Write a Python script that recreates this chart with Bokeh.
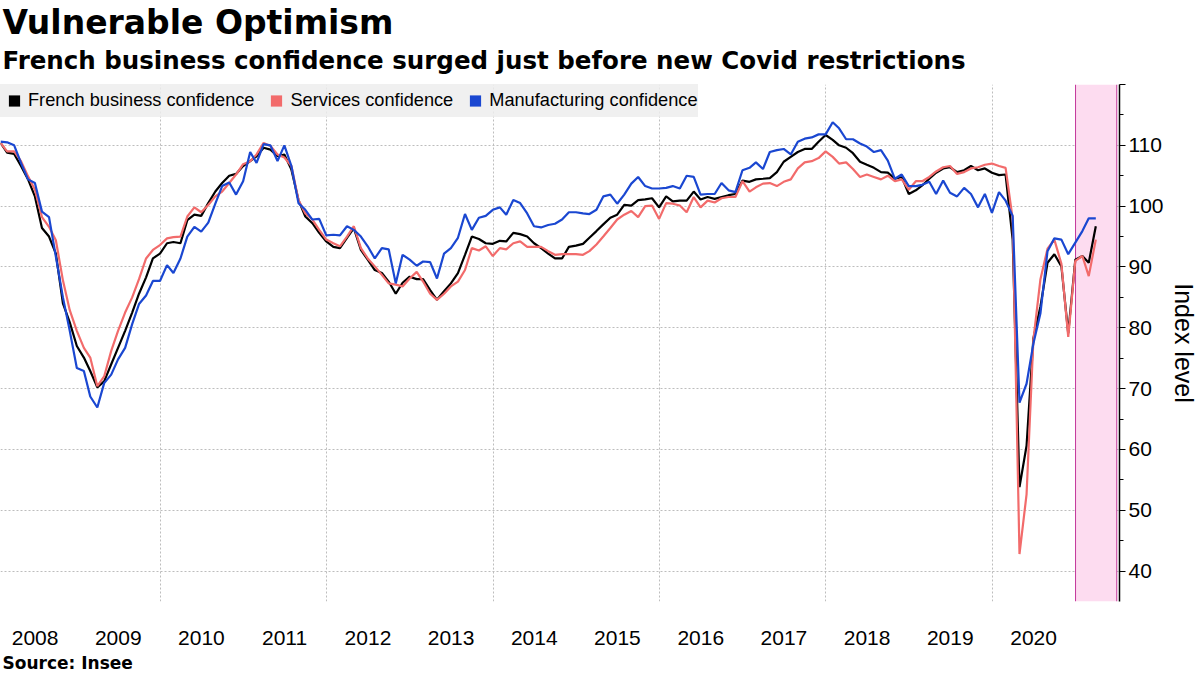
import datetime as dt

import pandas as pd
from bokeh.embed import file_html
from bokeh.models import (BoxAnnotation, ColumnDataSource, CustomJSTickFormatter,
                          FixedTicker, Legend, LegendItem, Range1d, Span, Title)
from bokeh.plotting import figure
from bokeh.resources import INLINE

# Monthly survey readings, Jan 2008 - Mar 2021 (each plotted at month end)
months = pd.date_range("2008-02-01", periods=159, freq="MS") - pd.Timedelta(days=1)

business = [
    110.4, 108.8, 108.6, 106.6, 104.4, 101.6, 96.4, 95.0, 92.2, 84.0, 80.9, 77.0,
    75.1, 72.9, 70.2, 71.2, 74.0, 76.7, 79.5, 82.5, 85.6, 88.3, 91.4, 92.2,
    93.9, 94.1, 93.9, 97.7, 98.6, 98.4, 100.5, 102.4, 103.8, 105.0, 105.3, 106.6,
    107.4, 108.2, 109.6, 109.3, 108.2, 108.5, 106.0, 101.0, 98.3, 97.2, 95.6, 94.2,
    93.3, 93.1, 94.8, 96.4, 92.8, 91.2, 89.5, 89.0, 87.6, 85.6, 87.4, 88.4,
    88.0, 88.0, 86.2, 84.6, 86.0, 87.3, 89.0, 92.0, 95.0, 94.6, 93.9, 93.8,
    94.3, 94.2, 95.6, 95.4, 95.0, 93.9, 93.1, 92.2, 91.4, 91.4, 93.3, 93.5,
    93.8, 94.8, 95.9, 97.0, 98.1, 98.6, 100.2, 100.1, 101.0, 101.1, 101.3, 99.8,
    101.6, 100.8, 100.9, 100.9, 102.4, 101.1, 101.5, 101.2, 101.5, 101.8, 102.0, 104.2,
    104.0, 104.4, 104.5, 104.6, 105.6, 107.3, 108.1, 108.9, 109.4, 109.4, 110.6, 111.7,
    110.9, 110.0, 109.6, 108.7, 107.3, 106.8, 106.3, 105.6, 105.5, 104.5, 104.8, 102.0,
    102.6, 103.4, 104.5, 105.5, 106.2, 106.4, 105.6, 105.9, 106.6, 105.9, 106.2, 105.5,
    105.1, 105.2, 94.5, 53.8, 60.6, 78.3, 83.5, 90.7, 92.1, 90.1, 79.1, 91.2,
    91.8, 90.7, 96.7,
]

services = [
    110.4, 109.0, 109.0, 107.4, 104.9, 102.7, 98.2, 96.6, 94.4, 87.8, 82.9, 79.5,
    76.7, 75.1, 70.4, 72.0, 76.2, 79.5, 82.5, 85.0, 88.0, 91.4, 92.8, 93.6,
    94.7, 94.9, 95.0, 98.3, 99.8, 99.0, 100.2, 101.6, 102.4, 103.8, 105.2, 106.9,
    107.4, 108.5, 110.4, 109.9, 108.5, 108.0, 106.6, 101.0, 98.8, 97.8, 96.1, 94.5,
    93.9, 93.4, 95.0, 96.7, 93.1, 91.4, 90.1, 88.7, 87.3, 87.1, 86.8, 88.1,
    89.2, 87.6, 85.6, 84.6, 85.6, 86.8, 87.6, 89.5, 93.1, 92.7, 93.4, 91.8,
    93.1, 92.9, 93.9, 94.2, 93.3, 93.3, 93.3, 92.6, 92.0, 92.1, 92.1, 92.1,
    92.0, 92.6, 93.7, 95.0, 96.4, 97.8, 98.6, 99.2, 98.2, 100.0, 100.1, 97.9,
    100.5, 100.4, 100.1, 99.0, 101.5, 99.8, 100.9, 100.6, 101.3, 101.5, 101.5, 104.1,
    102.4, 103.1, 103.7, 103.8, 103.3, 104.0, 104.4, 106.2, 107.2, 107.4, 107.9, 109.0,
    108.1, 107.0, 107.2, 106.1, 104.8, 105.2, 104.8, 104.4, 105.0, 104.1, 104.4, 102.7,
    104.1, 104.1, 104.8, 105.7, 106.4, 106.6, 105.3, 105.6, 106.2, 106.4, 106.8, 107.0,
    106.6, 106.3, 97.9, 42.8, 52.6, 78.0, 88.0, 93.0, 94.5, 90.5, 78.5, 91.0,
    91.8, 88.5, 94.5,
]

manufacturing = [
    110.6, 110.5, 110.0, 107.1, 104.4, 103.8, 99.1, 98.2, 91.7, 85.0, 79.5, 73.4,
    72.9, 68.7, 66.9, 70.9, 72.3, 74.8, 76.7, 80.6, 83.9, 85.3, 87.7, 87.7,
    90.3, 89.0, 91.4, 95.0, 96.6, 95.8, 97.3, 100.4, 103.3, 103.9, 101.9, 104.1,
    108.9, 107.1, 110.2, 110.0, 107.4, 110.0, 106.6, 100.5, 99.4, 97.8, 97.9, 95.2,
    95.3, 95.2, 96.7, 96.1, 95.0, 93.4, 91.4, 93.1, 92.9, 87.3, 92.0, 91.2,
    90.2, 90.9, 90.8, 88.1, 92.2, 93.1, 94.8, 98.7, 96.1, 98.1, 98.4, 99.4,
    99.8, 98.6, 101.0, 100.5, 98.8, 96.7, 96.5, 96.9, 97.1, 97.8, 99.0, 99.0,
    98.8, 98.7, 99.4, 101.6, 101.9, 100.4, 101.9, 103.7, 104.8, 103.3, 102.9, 102.9,
    103.0, 103.3, 102.9, 105.0, 104.8, 101.9, 102.0, 102.0, 103.8, 102.6, 102.3, 105.9,
    106.3, 107.2, 106.1, 108.9, 109.2, 109.4, 108.5, 110.6, 111.1, 111.3, 111.8, 111.8,
    113.8, 112.8, 111.0, 111.0, 110.3, 109.8, 108.9, 109.2, 107.5, 104.5, 105.2, 103.3,
    103.3, 103.5, 104.0, 102.0, 104.2, 102.2, 101.6, 103.0, 102.0, 99.8, 102.0, 98.9,
    102.3, 100.9, 98.4, 67.7, 70.8, 77.4, 82.4, 92.6, 94.7, 94.5, 92.1, 94.0,
    95.9, 98.0, 98.0,
]

series_names = ["French business confidence", "Services confidence", "Manufacturing confidence"]
series_colors = ["#000000", "#f26b6b", "#1a47d1"]

year_labels = list(range(2008, 2021))
grid_years = [2010, 2012, 2014, 2016, 2018, 2020]
y_ticks = [40, 50, 60, 70, 80, 90, 100, 110, 120]
y_minor = [45, 55, 65, 75, 85, 95, 105, 115]

highlight_start = dt.datetime(2021, 1, 1)
highlight_end = dt.datetime(2021, 7, 1)

source = ColumnDataSource(dict(date=months, business=business,
                               services=services, manufacturing=manufacturing))

p = figure(
    width=1200, height=675,
    x_axis_type="datetime", y_axis_location="right",
    x_range=Range1d(dt.datetime(2008, 1, 31), dt.datetime(2021, 7, 13)),
    y_range=Range1d(35, 120),
    toolbar_location=None, output_backend="svg",
    min_border_left=0, min_border_right=0, min_border_top=0, min_border_bottom=0,
)
p.outline_line_color = None
p.background_fill_color = "white"
p.border_fill_color = "white"

# Titles (first added sits next to the frame)
p.add_layout(Title(text=" ", text_font_size="6px", standoff=0), "above")
p.add_layout(Title(text="French business confidence surged just before new Covid restrictions",
                   text_font="DejaVu Sans", text_font_size="24.5px", text_font_style="bold",
                   text_color="black", align="left", offset=2, standoff=4), "above")
p.add_layout(Title(text="Vulnerable Optimism",
                   text_font="DejaVu Sans", text_font_size="33px", text_font_style="bold",
                   text_color="black", align="left", offset=2, standoff=0), "above")

# Grid
p.ygrid.ticker = FixedTicker(ticks=y_ticks)
p.xgrid.ticker = FixedTicker(ticks=[dt.datetime(y, 1, 1).timestamp() * 1000 for y in grid_years])
for g in (p.xgrid, p.ygrid):
    g.grid_line_color = "#bdbdbd"
    g.grid_line_dash = "2 2"
    g.grid_line_width = 1

# Highlighted period
p.add_layout(BoxAnnotation(left=highlight_start, right=highlight_end,
                           fill_color="#fddcf0", fill_alpha=1.0, line_color=None,
                           level="underlay"))
for edge in (highlight_start, highlight_end):
    p.add_layout(Span(location=edge, dimension="height", line_color="#c4379a",
                      line_width=1, level="underlay"))

# Lines
for col, color in zip(["business", "services", "manufacturing"], series_colors):
    p.line("date", col, source=source, line_color=color, line_width=2.2)

# Legend swatches: one square marker per series, kept below the visible value range
swatch_x = [dt.datetime(2008, 6, 1)]
swatches = [p.scatter(swatch_x, [0], marker="square", size=12,
                      fill_color=c, line_color=None) for c in series_colors]
legend = Legend(
    items=[LegendItem(label=n, renderers=[r]) for n, r in zip(series_names, swatches)],
    orientation="horizontal", location="top_left", margin=0, padding=0,
    spacing=8, glyph_width=28, glyph_height=33, label_height=33, label_standoff=0,
    label_text_font="Liberation Sans", label_text_font_size="18.2px", label_text_color="black",
    background_fill_color="#ededed", background_fill_alpha=0.85, border_line_color=None,
)
p.add_layout(legend)

# X axis: year labels centred on each year
xa = p.xaxis[0]
xa.ticker = FixedTicker(ticks=[dt.datetime(y, 7, 1).timestamp() * 1000 for y in year_labels])
xa.formatter = CustomJSTickFormatter(code="return String(new Date(tick).getUTCFullYear());")
xa.axis_line_color = None
xa.major_tick_line_color = None
xa.minor_tick_line_color = None
xa.major_label_standoff = 23
xa.major_label_text_font = "Liberation Sans"
xa.major_label_text_font_size = "21px"
xa.major_label_text_color = "black"

# Right value axis; the top tick stays unlabelled
ya = p.yaxis[0]
ya.ticker = FixedTicker(ticks=y_ticks, minor_ticks=y_minor)
ya.major_label_overrides = {120: ""}
ya.axis_label = "Index level"
ya.axis_label_text_font = "Liberation Sans"
ya.axis_label_text_font_size = "25px"
ya.axis_label_text_font_style = "normal"
ya.axis_label_text_color = "black"
ya.axis_label_standoff = 3
ya.axis_line_color = "black"
ya.axis_line_width = 1.5
ya.major_tick_out = 6
ya.major_tick_in = 0
ya.minor_tick_out = 4
ya.minor_tick_in = 0
ya.major_tick_line_color = "black"
ya.minor_tick_line_color = "black"
ya.major_label_standoff = 3
ya.major_label_text_font = "Liberation Sans"
ya.major_label_text_font_size = "21px"
ya.major_label_text_color = "black"

p.add_layout(Title(text="Source: Insee", text_font="DejaVu Sans", text_font_size="17px",
                   text_font_style="bold", text_color="black", align="left", offset=2,
                   standoff=6), "below")

open("out.html", "w").write(file_html(p, INLINE))
